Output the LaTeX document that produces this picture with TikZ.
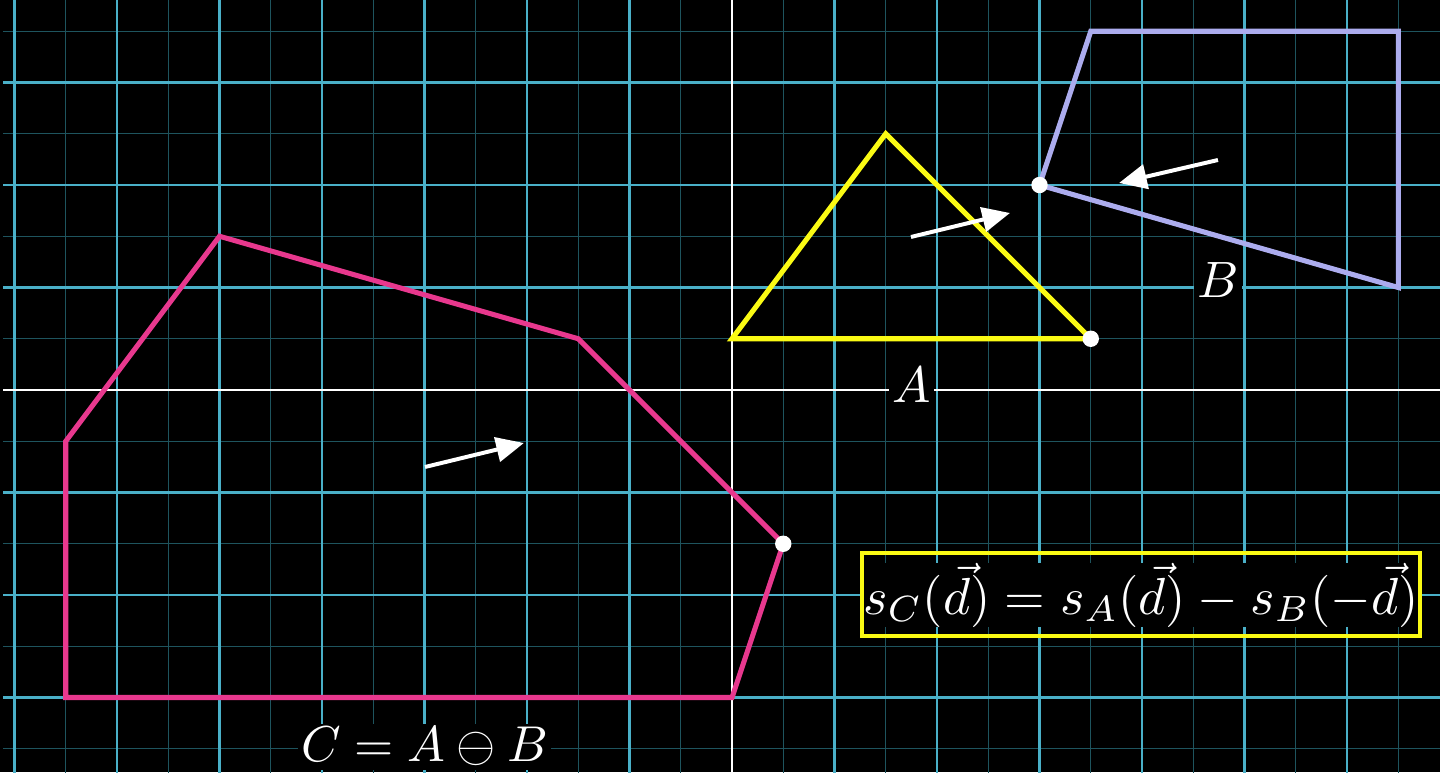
\documentclass[tikz,border=0pt]{standalone}
\usepackage{tikz}
\usetikzlibrary{arrows.meta}
\usepackage{xcolor}

\definecolor{gridmajor}{RGB}{74,176,200}
\definecolor{gridminor}{RGB}{30,84,94}
\definecolor{polypink}{RGB}{232,56,142}
\definecolor{polylav}{RGB}{172,172,238}
\definecolor{polyyel}{RGB}{250,250,20}

\begin{document}
\begin{tikzpicture}[
					minorline/.style={draw=gridminor, line width=0.4pt},
					majorline/.style={draw=gridmajor, line width=0.6pt},
					axisline/.style={draw=white, line width=0.7pt},
					poly/.style={line width=1.4pt, line join=miter},
					vdot/.style={circle, fill=white, inner sep=0pt, minimum size=0.16cm},
					dirarrow/.style={draw=white, line width=1.1pt, -{Triangle[length=0.27cm, width=0.24cm]}},
					lbl/.style={text=white, fill=black, inner sep=0.7pt, scale=1.42, transform shape}]
    % Background and grid
    \useasboundingbox[fill=black] (-7.1415,-3.7268) rectangle (6.9073,3.8049);
    \begin{scope}
    \clip (-7.1415,-3.7268) rectangle (6.9073,3.8049);
    \foreach \x in {-7.5,-6.5,...,6.5} \draw[minorline] (\x,-4) -- (\x,4);
    \foreach \y in {-3.5,-2.5,...,3.5} \draw[minorline] (-7.11,\y) -- (7,\y);
    \foreach \x in {-7,...,6} \draw[majorline] (\x,-4) -- (\x,4);
    \foreach \y in {-3,...,3} \draw[majorline] (-7.11,\y) -- (7,\y);
    \draw[axisline] (0,-4) -- (0,4);
    \draw[axisline] (-7.11,0) -- (7,0);
    \end{scope}

    % Place vertices
    \coordinate (c1) at (-6.5,-0.5);
    \coordinate (c2) at (-5,1.5);
    \coordinate (c3) at (-1.5,0.5);
    \coordinate (c4) at (0.5,-1.5);
    \coordinate (c5) at (0,-3);
    \coordinate (c6) at (-6.5,-3);
    \coordinate (a1) at (0,0.5);
    \coordinate (a2) at (1.5,2.5);
    \coordinate (a3) at (3.5,0.5);
    \coordinate (b1) at (3,2);
    \coordinate (b2) at (3.5,3.5);
    \coordinate (b3) at (6.5,3.5);
    \coordinate (b4) at (6.5,1);

    % Draw shapes
    \draw[poly, polypink] (c1) -- (c2) -- (c3) -- (c4) -- (c5) -- (c6) -- cycle;
    \draw[poly, polyyel] (a1) -- (a2) -- (a3) -- cycle;
    \draw[poly, polylav] (b1) -- (b2) -- (b3) -- (b4) -- cycle;

    % Place nodes
    \node [vdot] (dotC) at (c4) {};
    \node [vdot] (dotA) at (a3) {};
    \node [vdot] (dotB) at (b1) {};

    \node [lbl, anchor=base] (labA) at (1.75,-0.117) {$A$};
    \node [lbl, anchor=base] (labB) at (4.74,0.907) {$B$};
    \node [lbl, anchor=base, scale=0.985] (labC) at (-3.0,-3.629) {$C = A \ominus B$};

    \node [lbl, inner sep=0pt, scale=1.02] (eq) at (3.99,-2.0)
    	{$s_C(\vec{d}) = s_A(\vec{d}) - s_B(-\vec{d})$};
    \draw[polyyel, line width=1.1pt] (1.268,-1.59) rectangle (6.712,-2.40);

    % Draw arrows
    \coordinate (dC0) at (-2.995,-0.751);
    \coordinate (dC1) at (-2.03,-0.517);
    \coordinate (dA0) at (1.746,1.493);
    \coordinate (dA1) at (2.712,1.727);
    \coordinate (dB0) at (4.741,2.244);
    \coordinate (dB1) at (3.776,2.02);
    \draw[dirarrow] (dC0) -- (dC1);
    \draw[dirarrow] (dA0) -- (dA1);
    \draw[dirarrow] (dB0) -- (dB1);

\end{tikzpicture}
\end{document}
